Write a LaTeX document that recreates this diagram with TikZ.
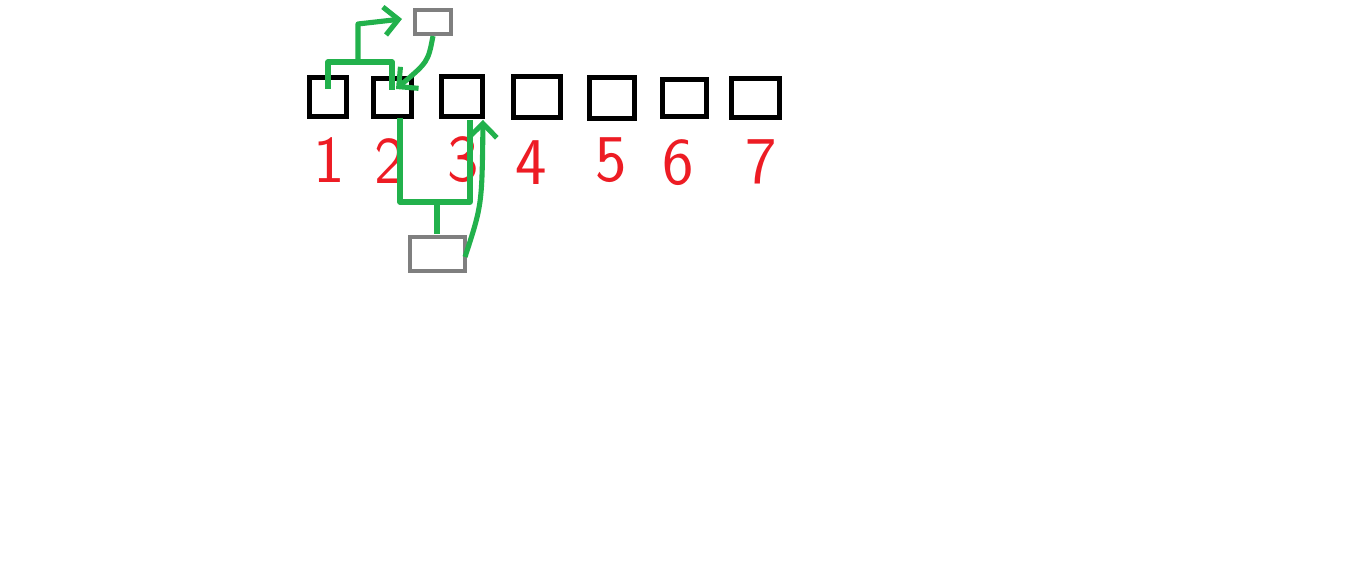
\documentclass[tikz,border=0pt]{standalone}
\usetikzlibrary{arrows.meta}
\definecolor{pgreen}{HTML}{22B14C}
\definecolor{pred}{HTML}{ED1C24}
\definecolor{pgray}{HTML}{7F7F7F}
\tikzset{
  cell/.style={draw=black, line width=1.45pt, inner sep=0pt, fill=white},
  gcell/.style={draw=pgray, line width=1.2pt, inner sep=0pt},
  gline/.style={draw=pgreen, line width=1.45pt, line join=round},
  garrow/.style={gline, -{Straight Barb[length=4pt,width=8pt]}},
  lbl/.style={text=pred, font=\sffamily\fontsize{19}{19}\selectfont, inner sep=0pt}
}
\begin{document}
\begin{tikzpicture}[x=0.01cm,y=-0.01cm]
\useasboundingbox (0,0) rectangle (1360,568);
\fill[white] (0,0) rectangle (1360,568);
% cells
\node[cell, minimum width=0.37cm, minimum height=0.39cm] (b1) at (328,97) {};
\node[cell, minimum width=0.38cm, minimum height=0.38cm] (b2) at (392.5,97.5) {};
\node[cell, minimum width=0.41cm, minimum height=0.40cm] (b3) at (462,96.5) {};
\node[cell, minimum width=0.47cm, minimum height=0.41cm] (b4) at (537,97) {};
\node[cell, minimum width=0.45cm, minimum height=0.41cm] (b5) at (612,98) {};
\node[cell, minimum width=0.44cm, minimum height=0.37cm] (b6) at (684.5,98) {};
\node[cell, minimum width=0.48cm, minimum height=0.39cm] (b7) at (755.5,98) {};
% gray boxes
\node[gcell, minimum width=0.36cm, minimum height=0.24cm] (t) at (433,22) {};
\node[gcell, minimum width=0.55cm, minimum height=0.34cm] (u) at (437.5,254) {};
% labels
\node[lbl] (l1) at (329,160) {1};
\node[lbl] (l2) at (390,161) {2};
\node[lbl] (l3) at (463,160) {3};
\node[lbl] (l4) at (531,163) {4};
\node[lbl] (l5) at (611,160) {5};
\node[lbl] (l6) at (678,163) {6};
\node[lbl] (l7) at (761,162) {7};
% green coordinates
\coordinate (a1) at (328,89);
\coordinate (a2) at (392,90);
\coordinate (j) at (358,62);
\coordinate (tin) at (402,19);
\coordinate (c2) at (396,89);
\coordinate (d2) at (400,118);
\coordinate (d3) at (470,120);
\coordinate (s1) at (437,203);
\coordinate (s2) at (437,234);
\coordinate (f1) at (465,257);
\coordinate (f2) at (483,120);
% green paths
\draw[gline] (a1) -- (328,62) -- (392,62) -- (a2);
\draw[garrow] (j) -- (358,24) -- (tin);
\draw[garrow] (t.south) .. controls (428,62) .. (c2);
\draw[gline] (d2) -- (400,202) -- (470,202) -- (d3);
\draw[gline] (s1) -- (s2);
\draw[garrow] (f1) .. controls (482,205) .. (f2);
\end{tikzpicture}
\end{document}
